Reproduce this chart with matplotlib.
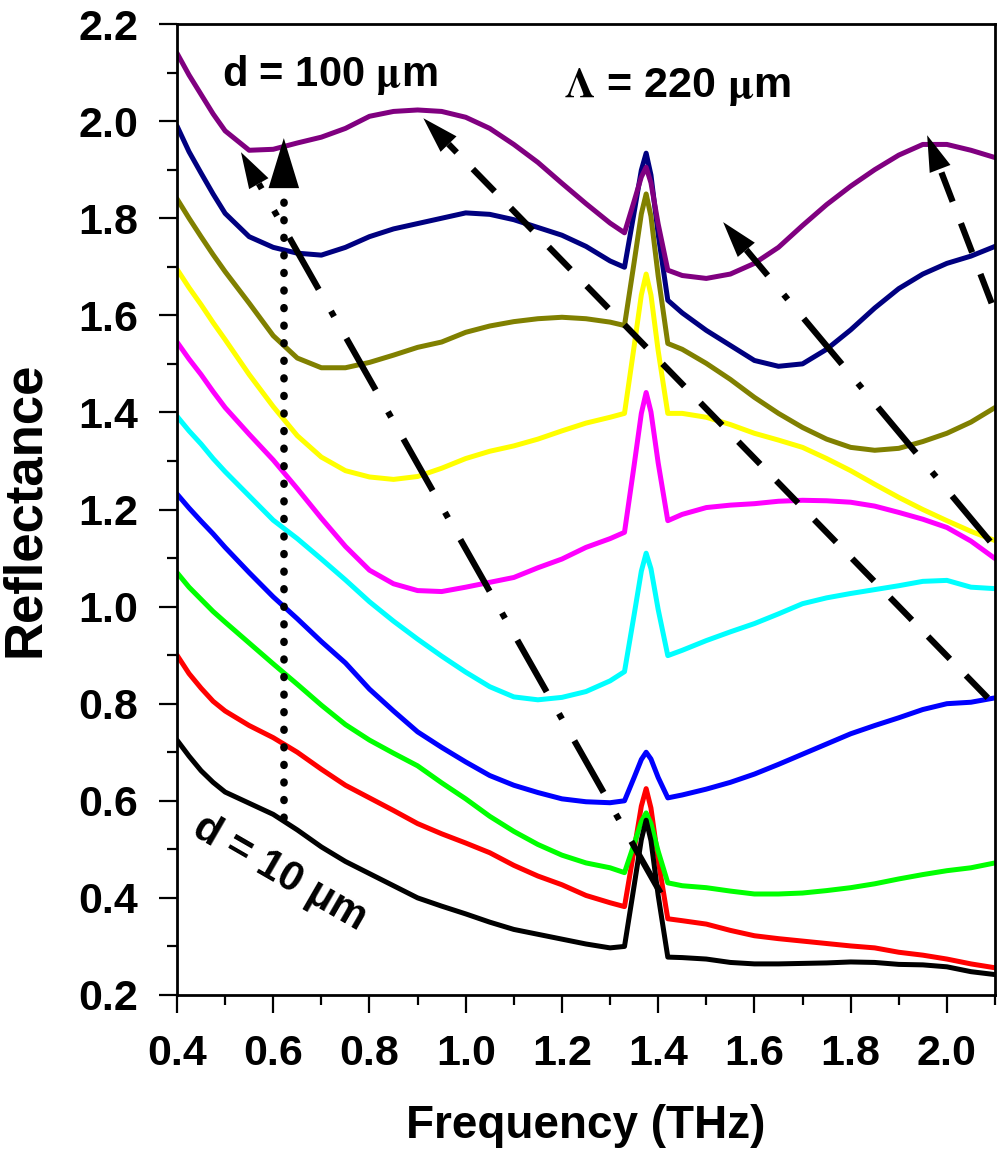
import numpy as np
import matplotlib
matplotlib.use("Agg")
import matplotlib.pyplot as plt
from matplotlib.ticker import MultipleLocator, FormatStrFormatter

plt.rcParams['font.family'] = ['Liberation Sans', 'DejaVu Sans']
plt.rcParams['font.weight'] = 'bold'
plt.rcParams['mathtext.fontset'] = 'stix'

# Frequency grid (THz)
freq = [0.40, 0.425, 0.45, 0.475, 0.50,
        0.55, 0.60, 0.65, 0.70, 0.75, 0.80, 0.85, 0.90, 0.95, 1.00, 1.05, 1.10, 1.15, 1.20, 1.25, 1.30,
        1.33, 1.35, 1.365, 1.375, 1.385, 1.40, 1.42,
        1.45, 1.50, 1.55, 1.60, 1.65, 1.70, 1.75, 1.80, 1.85, 1.90, 1.95, 2.00, 2.05, 2.10]

# Reflectance for each depth d (stacked with offsets, as in the figure)
refl_d10 = [0.725, 0.692, 0.662, 0.638, 0.618,
            0.595, 0.572, 0.540, 0.505, 0.475, 0.450, 0.425, 0.400, 0.383, 0.367, 0.350, 0.335, 0.325, 0.315, 0.305, 0.297,
            0.300, 0.425, 0.520, 0.560, 0.518, 0.405, 0.278,
            0.277, 0.274, 0.267, 0.264, 0.264, 0.265, 0.266, 0.268, 0.267, 0.263, 0.262, 0.258, 0.248, 0.242]
refl_d20 = [0.900, 0.862, 0.832, 0.805, 0.785,
            0.755, 0.730, 0.700, 0.665, 0.632, 0.606, 0.580, 0.553, 0.532, 0.513, 0.493, 0.467, 0.445, 0.427, 0.405, 0.390,
            0.382, 0.499, 0.589, 0.625, 0.585, 0.478, 0.357,
            0.353, 0.346, 0.333, 0.322, 0.316, 0.311, 0.306, 0.301, 0.297, 0.288, 0.282, 0.274, 0.264, 0.256]
refl_d30 = [1.070, 1.040, 1.015, 0.990, 0.968,
            0.925, 0.882, 0.840, 0.797, 0.757, 0.725, 0.698, 0.672, 0.637, 0.604, 0.568, 0.537, 0.510, 0.488, 0.472, 0.462,
            0.452, 0.511, 0.557, 0.575, 0.553, 0.496, 0.431,
            0.425, 0.421, 0.414, 0.408, 0.408, 0.410, 0.415, 0.421, 0.429, 0.439, 0.448, 0.456, 0.462, 0.472]
refl_d40 = [1.232, 1.203, 1.176, 1.150, 1.122,
            1.070, 1.020, 0.975, 0.928, 0.884, 0.830, 0.785, 0.742, 0.710, 0.680, 0.652, 0.632, 0.617, 0.604, 0.598, 0.596,
            0.600, 0.648, 0.685, 0.700, 0.686, 0.648, 0.606,
            0.612, 0.624, 0.638, 0.655, 0.675, 0.696, 0.717, 0.738, 0.755, 0.771, 0.788, 0.800, 0.803, 0.812]
refl_d50 = [1.392, 1.362, 1.335, 1.305, 1.278,
            1.228, 1.178, 1.140, 1.098, 1.055, 1.010, 0.970, 0.933, 0.898, 0.865, 0.835, 0.814, 0.808, 0.813, 0.825, 0.847,
            0.866, 0.983, 1.073, 1.110, 1.078, 0.994, 0.899,
            0.910, 0.930, 0.948, 0.965, 0.985, 1.006, 1.018, 1.027, 1.035, 1.043, 1.052, 1.054, 1.040, 1.037]
refl_d60 = [1.545, 1.510, 1.478, 1.443, 1.410,
            1.355, 1.302, 1.243, 1.182, 1.124, 1.075, 1.047, 1.033, 1.031, 1.040, 1.050, 1.060, 1.080, 1.098, 1.122, 1.140,
            1.153, 1.291, 1.398, 1.441, 1.401, 1.296, 1.177,
            1.190, 1.204, 1.209, 1.212, 1.217, 1.219, 1.218, 1.215, 1.207, 1.194, 1.180, 1.163, 1.135, 1.099]
refl_d70 = [1.695, 1.657, 1.622, 1.585, 1.550,
            1.478, 1.412, 1.352, 1.308, 1.280, 1.267, 1.262, 1.268, 1.285, 1.305, 1.320, 1.331, 1.345, 1.362, 1.378, 1.390,
            1.398, 1.536, 1.642, 1.685, 1.642, 1.527, 1.398,
            1.398, 1.390, 1.375, 1.357, 1.343, 1.328, 1.305, 1.280, 1.252, 1.225, 1.200, 1.177, 1.155, 1.136]
refl_d80 = [1.840, 1.800, 1.762, 1.725, 1.690,
            1.625, 1.558, 1.512, 1.492, 1.492, 1.503, 1.518, 1.534, 1.545, 1.565, 1.578, 1.587, 1.593, 1.596, 1.593, 1.586,
            1.579, 1.709, 1.809, 1.850, 1.804, 1.681, 1.542,
            1.530, 1.501, 1.468, 1.431, 1.398, 1.369, 1.345, 1.328, 1.322, 1.326, 1.340, 1.357, 1.380, 1.410]
refl_d90 = [1.990, 1.937, 1.893, 1.850, 1.810,
            1.762, 1.740, 1.728, 1.724, 1.740, 1.762, 1.778, 1.789, 1.800, 1.811, 1.808, 1.797, 1.781, 1.765, 1.742, 1.712,
            1.699, 1.812, 1.899, 1.934, 1.889, 1.767, 1.631,
            1.605, 1.569, 1.538, 1.507, 1.495, 1.500, 1.530, 1.570, 1.615, 1.655, 1.685, 1.707, 1.722, 1.742]
refl_d100 = [2.140, 2.095, 2.055, 2.015, 1.980,
             1.940, 1.942, 1.955, 1.967, 1.985, 2.010, 2.020, 2.023, 2.020, 2.008, 1.985, 1.952, 1.915, 1.872, 1.830, 1.790,
             1.770, 1.835, 1.885, 1.905, 1.873, 1.788, 1.693,
             1.682, 1.676, 1.685, 1.707, 1.740, 1.785, 1.828, 1.866, 1.900, 1.930, 1.952, 1.952, 1.940, 1.925]

# drawing order follows the overlaps seen in the figure
curves = [refl_d20, refl_d30, refl_d10, refl_d40, refl_d50, refl_d60, refl_d70,
          refl_d90, refl_d100, refl_d80]
colors = ['#ff0000', '#00ff00', '#000000', '#0000ff', '#00ffff', '#ff00ff', '#ffff00',
          '#000080', '#800080', '#808000']

# trend arrows: (tail, tip)
arrow_tails = [(0.622, 0.565), (1.405, 0.410), (2.085, 0.812), (2.090, 1.134), (2.093, 1.625)]
arrow_tips = [(0.622, 1.965), (0.533, 1.936), (0.912, 2.006), (1.535, 1.792), (1.959, 1.971)]
arrow_kinds = ['dotted', 'dashdot', 'dashed', 'dashdot', 'dashed']


def draw_arrow(fig, ax, tail, tip, kind):
    if kind == 'dotted':
        head_len, head_w, lw, ls, cap = 36, 11, 5.5, (0, (0.1, 2.2)), 'round'
    elif kind == 'dashdot':
        head_len, head_w, lw, ls, cap = 26, 8, 4.5, (0, (9.5, 4, 1, 4)), 'butt'
    else:
        head_len, head_w, lw, ls, cap = 26, 8, 4.5, (0, (5, 3.7)), 'butt'

    # stop the line at the base of the head
    p0 = ax.transData.transform(tail)
    p1 = ax.transData.transform(tip)
    d = (p1 - p0) / np.hypot(*(p1 - p0))
    base = ax.transData.inverted().transform(p1 - d * head_len * fig.dpi / 72)

    ax.plot([tail[0], base[0]], [tail[1], base[1]], color='k', lw=lw, linestyle=ls,
            dash_capstyle=cap, zorder=5)
    ax.annotate('', xy=tip, xytext=tail,
                arrowprops=dict(arrowstyle=f'-|>,head_length={head_len},head_width={head_w}',
                                mutation_scale=1, lw=0, color='k', shrinkA=0, shrinkB=0),
                zorder=6)


def main():
    fig = plt.figure(figsize=(10, 11.56), dpi=100)
    ax = fig.add_axes([0.177, 0.1393, 0.818, 0.8399])

    for refl, c in zip(curves, colors):
        ax.plot(freq, refl, color=c, lw=3.6, solid_joinstyle='round', solid_capstyle='round')

    ax.set_xlim(0.4, 2.1)
    ax.set_ylim(0.2, 2.2)
    ax.xaxis.set_major_locator(MultipleLocator(0.2))
    ax.xaxis.set_minor_locator(MultipleLocator(0.1))
    ax.yaxis.set_major_locator(MultipleLocator(0.2))
    ax.yaxis.set_minor_locator(MultipleLocator(0.1))
    ax.xaxis.set_major_formatter(FormatStrFormatter('%.1f'))
    ax.yaxis.set_major_formatter(FormatStrFormatter('%.1f'))
    ax.tick_params(which='major', direction='out', length=13, width=1.6, labelsize=31, pad=15)
    ax.tick_params(which='minor', direction='out', length=7, width=1.6)
    for sp in ax.spines.values():
        sp.set_linewidth(2)

    ax.set_xlabel('Frequency (THz)', fontsize=33, fontweight='bold', labelpad=22)
    ax.set_ylabel('Reflectance', fontsize=38, fontweight='bold', labelpad=20)

    for tail, tip, kind in zip(arrow_tails, arrow_tips, arrow_kinds):
        draw_arrow(fig, ax, tail, tip, kind)

    ax.text(0.717, 2.095, r'd = 100 $\mathrm{\mu}$m', fontsize=30, fontweight='bold',
            ha='center', va='center')
    ax.text(1.439, 2.07, r'$\Lambda$ = 220 $\mathrm{\mu}$m', fontsize=31, fontweight='bold',
            ha='center', va='center')
    ax.text(0.614, 0.452, 'd = 10 \u03bcm', fontsize=30, fontweight='bold',
            ha='center', va='center', rotation=-30, rotation_mode='anchor')

    fig.savefig('out.png', dpi=100)


main()
